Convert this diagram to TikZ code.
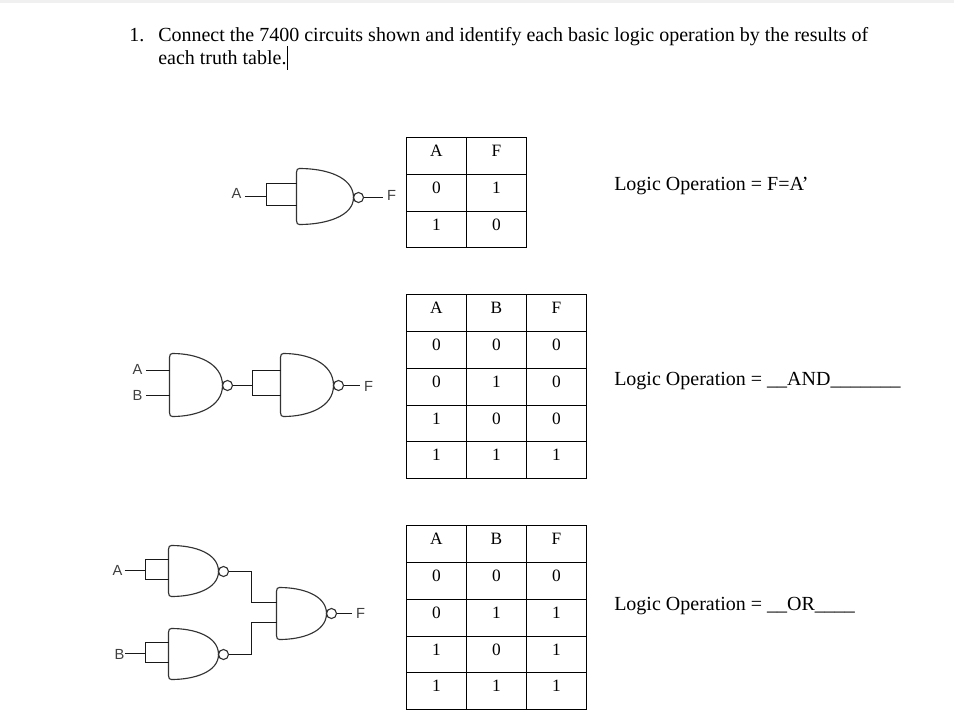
\documentclass[tikz,border=0pt]{standalone}
\usepackage{fontspec}
\setmainfont{Liberation Serif}
\newfontfamily\gatefont{Liberation Sans}
\tikzset{
  wire/.style={line width=.75pt,draw=black!90},
  body/.style={line width=.85pt,draw=black!80},
  grid/.style={line width=.75pt,draw=black},
  cell/.style={font=\fontsize{13}{15}\selectfont,inner sep=0pt,text=black},
  para/.style={font=\fontsize{15}{18}\selectfont,anchor=base west,inner sep=0pt,text=black},
  sig/.style={font=\gatefont\fontsize{11}{13}\selectfont,inner sep=2.5pt,text=black!75},
  pics/nand/.style n args={5}{code={
    % #1 width, #2 height, #3 #4 input offsets, #5 output offset
    \draw[body] (3,0) .. controls (0.52*#1,0) and (#1,-0.15*#2) .. (#1,-#5)
       .. controls (#1,-0.85*#2) and (0.52*#1,-#2) .. (3,-#2)
       .. controls (1,-#2) and (0,-#2+1) .. (0,-#2+4) -- (0,-4)
       .. controls (0,-1) and (1,0) .. (3,0);
    \draw[body] (#1+5,-#5) circle[radius=5];
    \coordinate (-a) at (0,-#3);
    \coordinate (-b) at (0,-#4);
    \coordinate (-o) at (#1+10,-#5);
  }}
}
\newcommand{\tablegrid}[6]{% x list, y list, xmin, xmax, ymin, ymax
  \foreach \px in {#1} \draw[grid] (\px,-#5) -- (\px,-#6);
  \foreach \py in {#2} \draw[grid] (#3,-\py) -- (#4,-\py);
}
\begin{document}
\begin{tikzpicture}[x=.75pt,y=.75pt]
\useasboundingbox (0,0) rectangle (954,-728);
\fill[black!6] (0,0) rectangle (954,-3);

% heading
\node[para] (num) at (129,-41) {1.};
\node[para] (line1) at (158,-41) {Connect the 7400 circuits shown and identify each basic logic operation by the results of};
\node[para] (line2) at (158,-64) {each truth table.};
\draw[line width=.75pt] (287.5,-46) -- (287.5,-70);

\begin{scope}[shift={(.5,-.5)}]
% circuit 1
\pic (g1) at (296,-168) {nand={57}{56}{15}{37}{29}};
\node[sig] (a1) at (236,-193) {A};
\node[sig] (f1) at (391,-195) {F};
\coordinate (j1) at (266,-196);
\draw[wire] (g1-a) -| (j1) |- (g1-b);
\draw[wire] (a1.east |- j1) -- (j1);
\draw[wire] (g1-o) -- (f1.west |- g1-o);

% circuit 2
\pic (g2) at (169,-353) {nand={53}{63}{17}{42}{32}};
\pic (g3) at (280,-353) {nand={53}{63}{17}{42}{32}};
\node[sig] (a2) at (137,-369) {A};
\node[sig] (b2) at (137,-395) {B};
\node[sig] (f2) at (368,-386) {F};
\coordinate (j2) at (252,-385);
\draw[wire] (a2.east |- g2-a) -- (g2-a);
\draw[wire] (b2.east |- g2-b) -- (g2-b);
\draw[wire] (g2-o) -- (j2);
\draw[wire] (g3-a) -| (j2) |- (g3-b);
\draw[wire] (g3-o) -- (f2.west |- g3-o);

% circuit 3
\pic (g4) at (168,-545) {nand={50}{51}{14}{34}{26}};
\pic (g5) at (168,-628) {nand={50}{51}{14}{34}{26}};
\pic (g6) at (276,-587) {nand={50}{52}{15}{35}{26}};
\node[sig,inner sep=1.5pt] (a3) at (117,-570) {A};
\node[sig,inner sep=.3pt] (b3) at (119,-654) {B};
\node[sig] (f3) at (360,-613) {F};
\coordinate (j4) at (145,-570);
\coordinate (j5) at (145,-653);
\coordinate (r4) at (251,-571);
\coordinate (r5) at (251,-654);
\draw[wire] (g4-a) -| (j4) |- (g4-b);
\draw[wire] (g5-a) -| (j5) |- (g5-b);
\draw[wire] (a3.east |- j4) -- (j4);
\draw[wire] (b3.east |- j5) -- (j5);
\draw[wire] (g4-o) -- (r4) |- (g6-a);
\draw[wire] (g5-o) -- (r5) |- (g6-b);
\draw[wire] (g6-o) -- (f3.west |- g6-o);
\end{scope}

% table 1
\tablegrid{406.5,466.5,526.5}{137.5,174.5,211.5,247.5}{406.1}{526.9}{137.1}{247.9}
\node[cell] (t1a) at (436.5,-151) {A};
\node[cell] (t1b) at (496.5,-151) {F};
\node[cell] (t1c) at (436.5,-188) {0};
\node[cell] (t1d) at (496.5,-188) {1};
\node[cell] (t1e) at (436.5,-225) {1};
\node[cell] (t1f) at (496.5,-225) {0};

% table 2
\tablegrid{406.5,466.5,526.5,586.5}{294.5,331.5,368.5,405.5,441.5,478.5}{406.1}{586.9}{294.1}{478.9}
\node[cell] (t2a) at (436.5,-308) {A};
\node[cell] (t2b) at (496.5,-308) {B};
\node[cell] (t2c) at (556.5,-308) {F};
\node[cell] (t2d) at (436.5,-345) {0};
\node[cell] (t2e) at (496.5,-345) {0};
\node[cell] (t2f) at (556.5,-345) {0};
\node[cell] (t2g) at (436.5,-382) {0};
\node[cell] (t2h) at (496.5,-382) {1};
\node[cell] (t2i) at (556.5,-382) {0};
\node[cell] (t2j) at (436.5,-419) {1};
\node[cell] (t2k) at (496.5,-419) {0};
\node[cell] (t2l) at (556.5,-419) {0};
\node[cell] (t2m) at (436.5,-455) {1};
\node[cell] (t2n) at (496.5,-455) {1};
\node[cell] (t2o) at (556.5,-455) {1};

% table 3
\tablegrid{406.5,466.5,526.5,586.5}{525.5,562.5,599.5,636.5,672.5,709.5}{406.1}{586.9}{525.1}{709.9}
\node[cell] (t3a) at (436.5,-539) {A};
\node[cell] (t3b) at (496.5,-539) {B};
\node[cell] (t3c) at (556.5,-539) {F};
\node[cell] (t3d) at (436.5,-576) {0};
\node[cell] (t3e) at (496.5,-576) {0};
\node[cell] (t3f) at (556.5,-576) {0};
\node[cell] (t3g) at (436.5,-613) {0};
\node[cell] (t3h) at (496.5,-613) {1};
\node[cell] (t3i) at (556.5,-613) {1};
\node[cell] (t3j) at (436.5,-650) {1};
\node[cell] (t3k) at (496.5,-650) {0};
\node[cell] (t3l) at (556.5,-650) {1};
\node[cell] (t3m) at (436.5,-686) {1};
\node[cell] (t3n) at (496.5,-686) {1};
\node[cell] (t3o) at (556.5,-686) {1};

% answers
\node[para] (op1) at (614,-190) {Logic Operation = F=A’};
\node[para] (op2) at (614,-385) {Logic Operation = \_\_AND\_\_\_\_\_\_\_};
\node[para] (op3) at (614,-610) {Logic Operation = \_\_OR\_\_\_\_};
\end{tikzpicture}
\end{document}
